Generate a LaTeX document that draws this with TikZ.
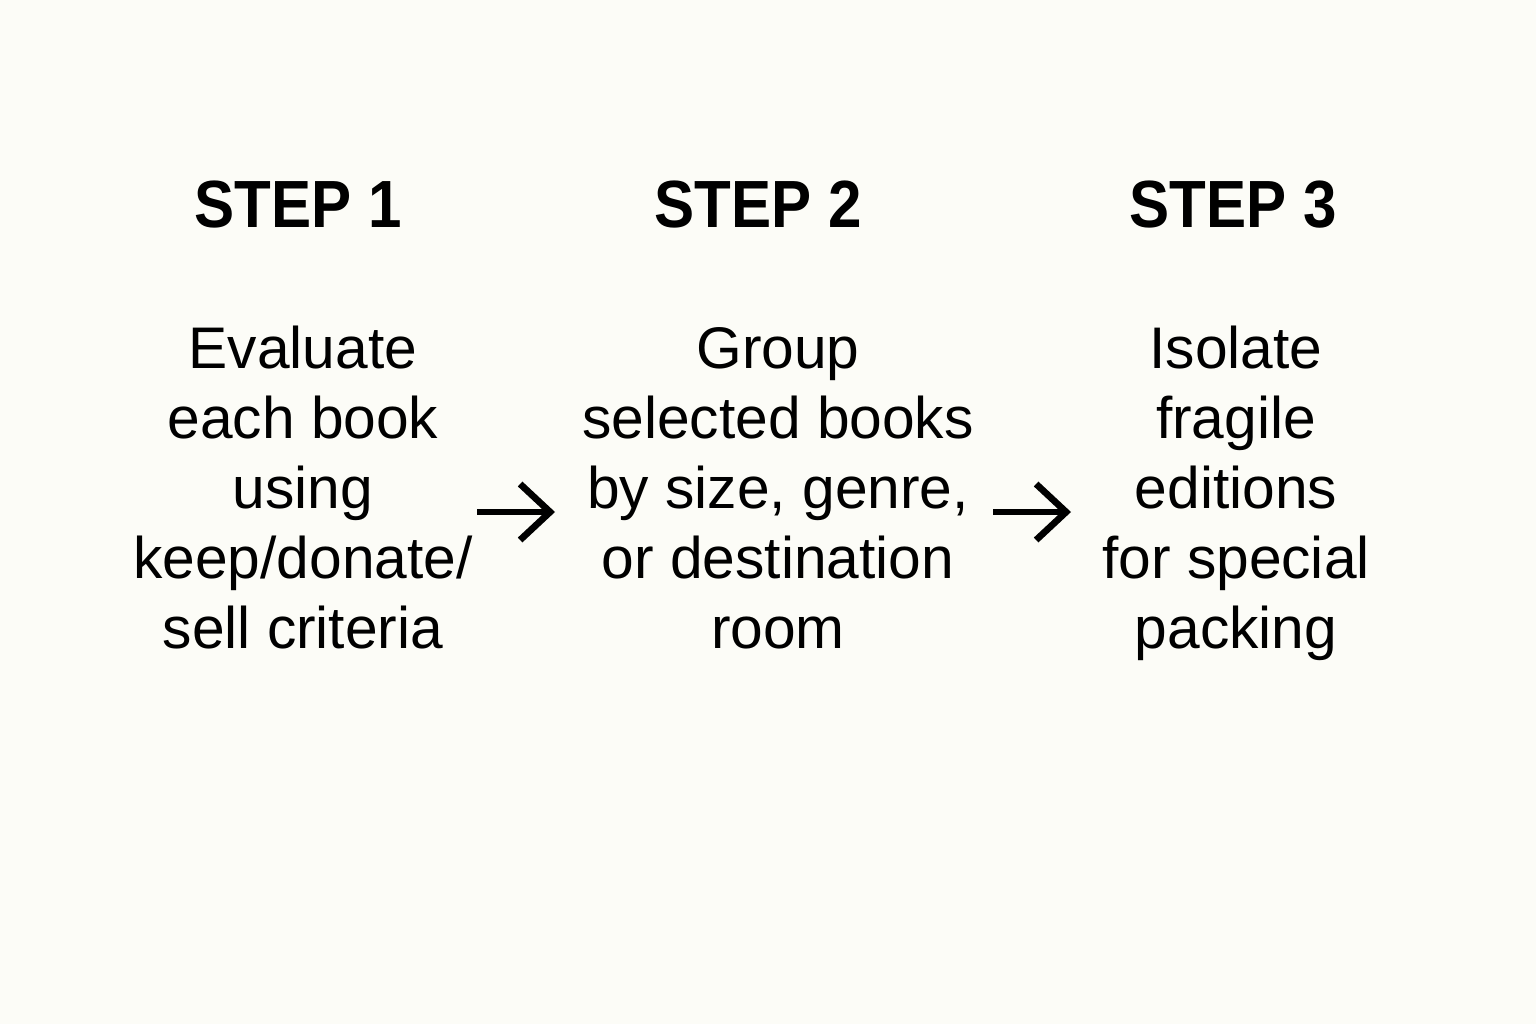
\documentclass[tikz,border=0pt]{standalone}
\usepackage{fontspec}
\setmainfont{Liberation Sans}
\newfontfamily\headfont[FakeStretch=0.9]{Liberation Sans}
\usetikzlibrary{arrows.meta}
\definecolor{paper}{RGB}{252,252,247}
\tikzset{
  stephead/.style={font=\headfont\fontsize{19}{23}\bfseries\selectfont, inner sep=0pt, anchor=base},
  stepbody/.style={font=\fontsize{16.7}{19.9}\selectfont, align=center, inner sep=0pt, anchor=base},
  steparrow/.style={-{Straight Barb[length=3mm,width=5.6mm]}, line width=1.9pt}
}
\begin{document}
\begin{tikzpicture}
            \fill[paper] (0,0) rectangle (15.36,10.24);
            \useasboundingbox (0,0) rectangle (15.36,10.24);

            \node[stephead] (h1) at (2.98,7.96) {STEP 1};
            \node[stephead] (h2) at (7.58,7.96) {STEP 2};
            \node[stephead] (h3) at (12.33,7.96) {STEP 3};

            % base anchor sits on the last line
            \node[stepbody] (b1) at (3.03,3.76) {Evaluate\\each book\\using\\keep/donate/\\sell criteria};
            \node[stepbody] (b2) at (7.78,3.76) {Group\\selected books\\by size, genre,\\or destination\\room};
            \node[stepbody] (b3) at (12.36,3.76) {Isolate\\fragile\\editions\\for special\\packing};

            \coordinate (a1) at (4.77,5.12);
            \coordinate (a2) at (5.55,5.12); % into step 2
            \coordinate (a3) at (9.93,5.12);
            \coordinate (a4) at (10.71,5.12); % into step 3

            \draw[steparrow] (a1) -- (a2);
            \draw[steparrow] (a3) -- (a4);
\end{tikzpicture}
\end{document}
